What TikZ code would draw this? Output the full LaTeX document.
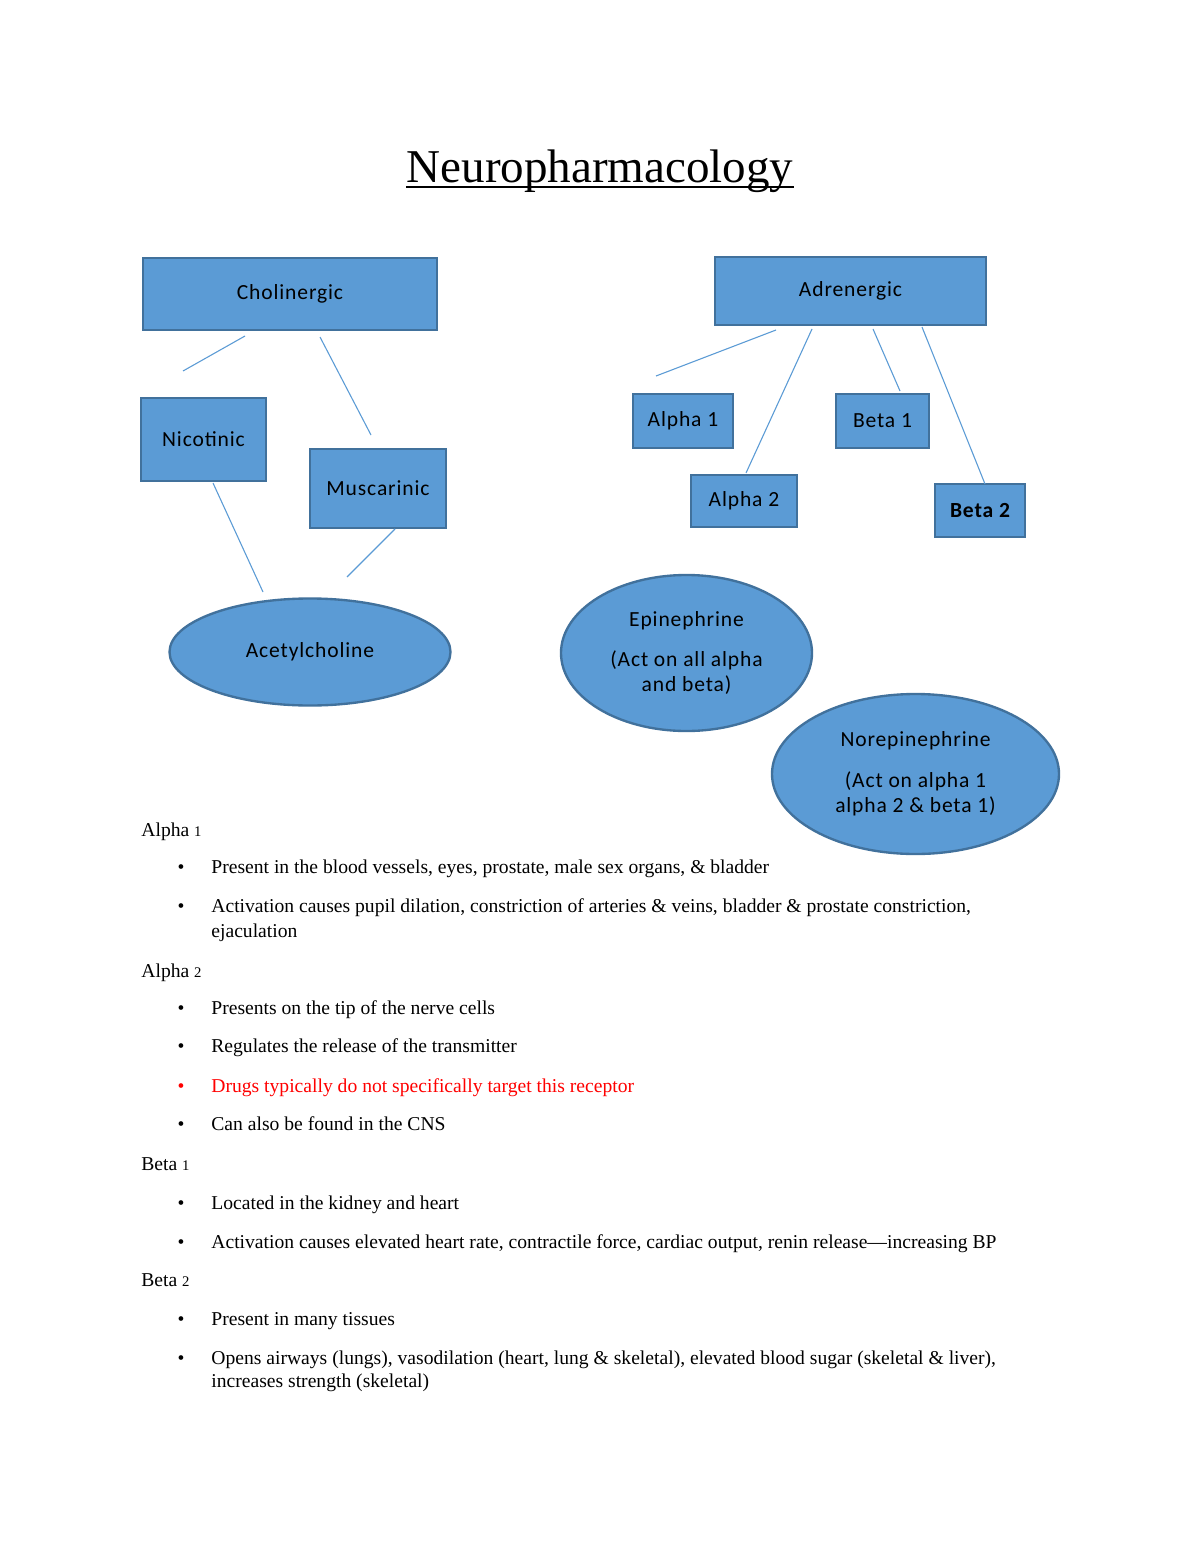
\documentclass[tikz,border=0pt]{standalone}
\usepackage{fontspec}
\setmainfont{Liberation Serif}
\newfontfamily\boxfont[LetterSpace=4]{Carlito}
\usetikzlibrary{shapes.geometric}
\definecolor{fillblue}{HTML}{5B9BD5}
\definecolor{edgeblue}{HTML}{41719C}
\definecolor{linkblue}{HTML}{5B9BD5}
\definecolor{redtext}{HTML}{FF0000}
\newdimen\px \px=0.51pt
\begin{document}
\begin{tikzpicture}[x=0.51pt,y=-0.51pt,
  box/.style={rectangle, draw=edgeblue, fill=fillblue, line width=1.2pt, inner sep=0pt,
    font=\boxfont\fontsize{11}{12.5}\selectfont},
  oval/.style={ellipse, draw=edgeblue, fill=fillblue, line width=1.2pt, inner sep=0pt,
    align=center, font=\boxfont\fontsize{11}{12.8}\selectfont},
  link/.style={draw=linkblue, line width=0.55pt},
  bodytext/.style={anchor=base west, inner sep=0pt, font=\fontsize{10}{12}\selectfont},
  bul/.style={anchor=base, inner sep=0pt, font=\fontsize{10}{12}\selectfont},
  heading/.style={anchor=base west, inner sep=0pt, font=\fontsize{10}{12}\selectfont}
]
\useasboundingbox (0,0) rectangle (1200,1553);
\fill[white] (0,0) rectangle (1200,1553);

% title
\node[anchor=base, inner sep=0pt, font=\fontsize{24}{28}\selectfont] (title) at (600,183) {Neuropharmacology};
\draw[line width=1.1pt] ([yshift=-2.2pt]title.base west) -- ([yshift=-2.2pt]title.base east);

% cholinergic side
\node[box, minimum width=294\px, minimum height=72\px] (chol) at (290,294) {Cholinergic};
\node[box, minimum width=125\px, minimum height=83\px] (nic) at (203.5,439.5) {Nicotinic};
\node[box, minimum width=136\px, minimum height=79\px] (mus) at (378,488.5) {Muscarinic};
\node[oval, minimum width=281\px, minimum height=107\px] (ach) at (310,652) {Acetylcholine};

% adrenergic side
\node[box, minimum width=271\px, minimum height=68\px] (adr) at (850.5,291) {Adrenergic};
\node[box, minimum width=100\px, minimum height=54\px] (a1) at (683,421) {Alpha 1};
\node[box, minimum width=106\px, minimum height=52\px] (a2) at (744,501) {Alpha 2};
\node[box, minimum width=93\px, minimum height=54\px] (b1) at (882.5,421) {Beta 1};
\node[box, minimum width=90\px, minimum height=53\px] (b2) at (980,510.5) {\bfseries Beta 2};
\node[oval, minimum width=251\px, minimum height=156\px] (epi) at (686.5,653)
  {Epinephrine\\[8pt](Act on all alpha\\and beta)};
\node[oval, minimum width=287\px, minimum height=160\px] (norepi) at (915.5,774)
  {Norepinephrine\\[8pt](Act on alpha 1\\alpha 2 \& beta 1)};

% connector end points (lines float between the shapes)
\coordinate (l1a) at (245,336); \coordinate (l1b) at (183,371);
\coordinate (l2a) at (320,337); \coordinate (l2b) at (371,435);
\coordinate (l3a) at (213,483); \coordinate (l3b) at (263,592);
\coordinate (l4a) at (395,529); \coordinate (l4b) at (347,577);
\coordinate (l5a) at (776,330); \coordinate (l5b) at (656,376);
\coordinate (l6a) at (812,329); \coordinate (l6b) at (746,473);
\coordinate (l7a) at (873,329); \coordinate (l7b) at (900,391);
\coordinate (l8a) at (922,327); \coordinate (l8b) at (985,484);
\draw[link] (l1a) -- (l1b);
\draw[link] (l2a) -- (l2b);
\draw[link] (l3a) -- (l3b);
\draw[link] (l4a) -- (l4b);
\draw[link] (l5a) -- (l5b);
\draw[link] (l6a) -- (l6b);
\draw[link] (l7a) -- (l7b);
\draw[link] (l8a) -- (l8b);

% notes
\node[heading] (h1) at (141,836) {Alpha {\fontsize{7.5}{9}\selectfont 1}};
\node[bul] (p1) at (181,873) {•};
\node[bodytext] (t1) at (211,873) {Present in the blood vessels, eyes, prostate, male sex organs, \& bladder};
\node[bul] (p2) at (181,912) {•};
\node[bodytext] (t2) at (211,912) {Activation causes pupil dilation, constriction of arteries \& veins, bladder \& prostate constriction,};
\node[bodytext] (t2b) at (211,937) {ejaculation};

\node[heading] (h2) at (141,977) {Alpha {\fontsize{7.5}{9}\selectfont 2}};
\node[bul] (p3) at (181,1014) {•};
\node[bodytext] (t3) at (211,1014) {Presents on the tip of the nerve cells};
\node[bul] (p4) at (181,1052) {•};
\node[bodytext] (t4) at (211,1052) {Regulates the release of the transmitter};
\node[bul, text=redtext] (p5) at (181,1092) {•};
\node[bodytext, text=redtext] (t5) at (211,1092) {Drugs typically do not specifically target this receptor};
\node[bul] (p6) at (181,1130) {•};
\node[bodytext] (t6) at (211,1130) {Can also be found in the CNS};

\node[heading] (h3) at (141,1170) {Beta {\fontsize{7.5}{9}\selectfont 1}};
\node[bul] (p7) at (181,1209) {•};
\node[bodytext] (t7) at (211,1209) {Located in the kidney and heart};
\node[bul] (p8) at (181,1248) {•};
\node[bodytext] (t8) at (211,1248) {Activation causes elevated heart rate, contractile force, cardiac output, renin release—increasing BP};

\node[heading] (h4) at (141,1286) {Beta {\fontsize{7.5}{9}\selectfont 2}};
\node[bul] (p9) at (181,1325) {•};
\node[bodytext] (t9) at (211,1325) {Present in many tissues};
\node[bul] (p10) at (181,1364) {•};
\node[bodytext] (t10) at (211,1364) {Opens airways (lungs), vasodilation (heart, lung \& skeletal), elevated blood sugar (skeletal \& liver),};
\node[bodytext] (t10b) at (211,1387) {increases strength (skeletal)};
\end{tikzpicture}
\end{document}
